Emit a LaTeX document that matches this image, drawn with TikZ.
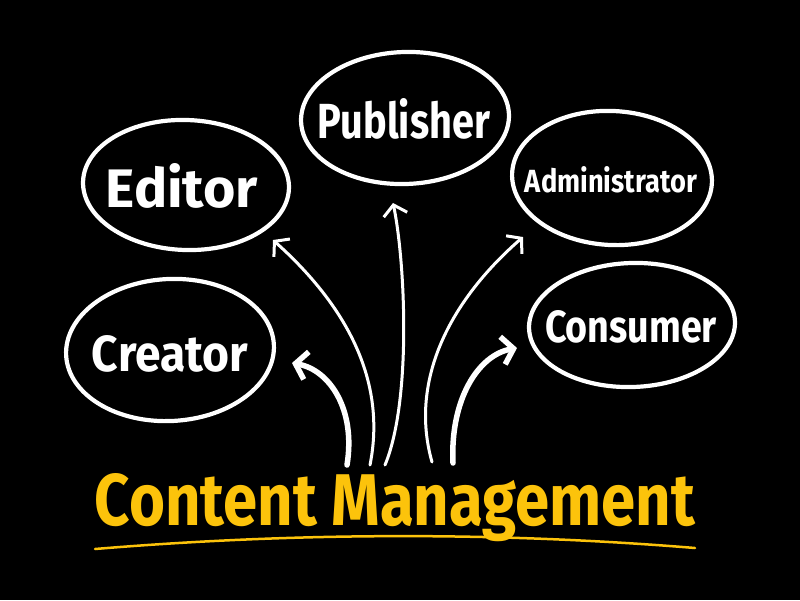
\documentclass[tikz,border=0pt]{standalone}
\usepackage{fontspec}
\setmainfont{Fira Sans}
\usetikzlibrary{shapes.geometric,arrows.meta}
\definecolor{cmyellow}{HTML}{FCC30B}
\tikzset{
  bubble/.style={ellipse, draw=white, line width=4.2pt, inner sep=0pt},
  lbl/.style={text=white, font=\bfseries, inner sep=0pt},
  thinarrow/.style={draw=white, line width=3pt, line cap=round,
    -{Straight Barb[length=10pt,width=24pt,line width=3pt]}},
  thickarrow/.style={draw=white, line width=5.5pt, line cap=round,
    -{Straight Barb[length=11pt,width=28pt,line width=5.5pt]}},
}
\begin{document}
\begin{tikzpicture}[x=1pt,y=-1pt]
\fill[black] (0,0) rectangle (800,600);
\useasboundingbox (0,0) rectangle (800,600);

% bubbles
\node[bubble, minimum width=206pt, minimum height=130pt, rotate=-2] (editor) at (186,185) {};
\node[bubble, minimum width=208pt, minimum height=132pt, rotate=2] (publisher) at (405,118) {};
\node[bubble, minimum width=200pt, minimum height=134pt, rotate=-3] (admin) at (612,178) {};
\node[bubble, minimum width=208pt, minimum height=142pt, rotate=3] (creator) at (170,350) {};
\node[bubble, minimum width=206pt, minimum height=124pt, rotate=2] (consumer) at (632,325) {};

% labels
\node[lbl] (teditor) at (182,186) {\resizebox{152pt}{44pt}{Editor}};
\node[lbl] (tpublisher) at (404,119) {\resizebox{172pt}{40pt}{Publisher}};
\node[lbl] (tadmin) at (611,180) {\resizebox{172pt}{26pt}{Administrator}};
\node[lbl] (tcreator) at (170,354) {\resizebox{156pt}{36pt}{Creator}};
\node[lbl] (tconsumer) at (631,327) {\resizebox{172pt}{32pt}{Consumer}};

% title
\node[text=cmyellow, font=\bfseries, inner sep=0pt, anchor=base] (title) at (395,525)
  {\resizebox{600pt}{52pt}{Content Management}};
\coordinate (ulA) at (95,549);
\coordinate (ulB) at (695,548);
\draw[cmyellow, line width=2.5pt, line cap=round] (ulA) .. controls (300,532) and (500,532) .. (ulB);

% arrow anchors
\coordinate (sA) at (347,465);
\coordinate (sB) at (370,465);
\coordinate (sC) at (385,465);
\coordinate (sD) at (432,462);
\coordinate (sE) at (453,463);
\coordinate (eA) at (292,363);
\coordinate (eB) at (273,240);
\coordinate (eC) at (393,203);
\coordinate (eD) at (523,237);
\coordinate (eE) at (517,348);

\draw[thickarrow] (sA) .. controls (356,410) and (330,370) .. (eA);
\draw[thinarrow] (sB) .. controls (388,375) and (340,300) .. (eB);
\draw[thinarrow] (sC) .. controls (412,400) and (405,260) .. (eC);
\draw[thinarrow] (sD) .. controls (410,385) and (445,305) .. (eD);
\draw[thickarrow] (sE) .. controls (450,400) and (478,355) .. (eE);
\end{tikzpicture}
\end{document}
